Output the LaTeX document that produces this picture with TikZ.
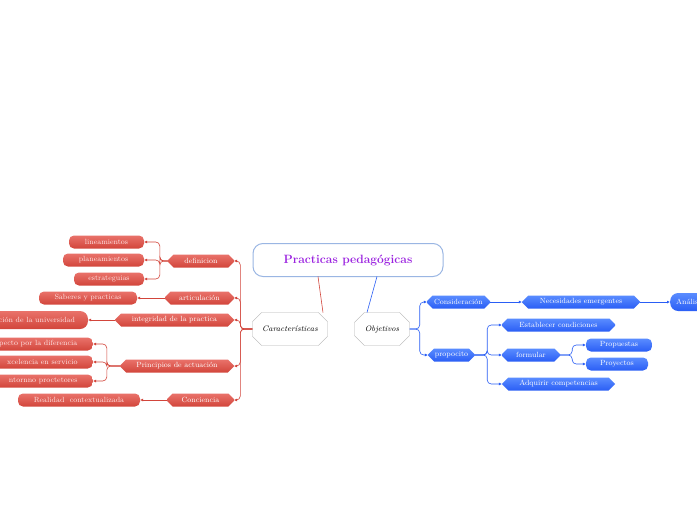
\documentclass[tikz,border=0pt]{standalone}
\usetikzlibrary{shapes.misc,arrows.meta}
\definecolor{rd}{HTML}{D2453B}
\definecolor{rdl}{HTML}{E9726A}
\definecolor{bl}{HTML}{2A5EF5}
\definecolor{bll}{HTML}{5A8CFF}
\definecolor{pur}{HTML}{9B22E0}
\tikzset{
 base/.style={font=\fontsize{7.5}{8}\selectfont, text=white, inner sep=0pt, minimum height=13},
 rch/.style={base, chamfered rectangle, chamfered rectangle xsep=6pt, top color=rdl, bottom color=rd, draw=none},
 rlf/.style={base, rounded corners=5pt, top color=rdl, bottom color=rd, text=red!10},
 bch/.style={base, chamfered rectangle, chamfered rectangle xsep=6pt, top color=bll, bottom color=bl, draw=none},
 blf/.style={base, rounded corners=5pt, top color=bll, bottom color=bl},
 rc/.style={draw=rd, line width=0.6pt, rounded corners=4pt, -{Latex[length=3pt,width=3pt]}},
 bc/.style={draw=bl, line width=0.6pt, rounded corners=4pt, -{Latex[length=3pt,width=3pt]}},
}
\begin{document}
\begin{tikzpicture}[x=1pt,y=-1pt]
\useasboundingbox[fill=white] (0,0) rectangle (697,520);
% main
\node[draw=cyan!50!blue!40, line width=1pt, rounded corners=10pt, minimum width=190, minimum height=33, font=\bfseries\large, text=pur] (t) at (348,260) {Practicas pedagógicas};
\node[chamfered rectangle, chamfered rectangle xsep=8pt, draw=gray!60, minimum width=75, minimum height=33, font=\itshape\fontsize{8}{9}\selectfont] (car) at (290,329) {Características};
\node[chamfered rectangle, chamfered rectangle xsep=8pt, draw=gray!60, minimum width=55, minimum height=33, font=\itshape\fontsize{8}{9}\selectfont] (obj) at (382,329) {Objetivos};
\draw[rd, line width=0.6pt] (318,276.5) -- (323,312.5);
\draw[bl, line width=0.6pt] (377,276.5) -- (367,312.5);
% red level 2
\node[rch, minimum width=66] (def) at (201,261) {definicion};
\node[rch, minimum width=69] (art) at (199.5,298) {articulación};
\node[rch, minimum width=119] (int) at (174.5,320) {integridad de la practica};
\node[rch, minimum width=114] (pri) at (177,366) {Principios de actuación};
\node[rch, minimum width=67] (con) at (200.5,400) {Conciencia};
\foreach \n in {def,art,int,pri,con} \draw[rc] (car.west) -- ++(-12,0) |- (\n.east);
% red leaves
\node[rlf, minimum width=75] (l1) at (106.5,242) {lineamientos};
\node[rlf, minimum width=81] (l2) at (103.5,260) {planeamientos};
\node[rlf, minimum width=70] (l3) at (109,279) {estrateguias};
\foreach \n in {l1,l2,l3} \draw[rc] (def.west) -- ++(-8,0) |- (\n.east);
\node[rlf, minimum width=98] (sab) at (88,298) {Saberes y practicas};
\draw[rc] (art.west) -- (sab.east);
\node[rlf, minimum width=130, rounded corners=8pt, minimum height=18] (uni) at (23,320) {\hspace*{28pt}ción de la universidad};
\draw[rc] (int.west) -- (uni.east);
\node[rlf, minimum width=130, anchor=east] (p1) at (93,344) {\hspace*{21pt}pecto por la diferencia};
\node[rlf, minimum width=130, anchor=east] (p2) at (93,362) {\hspace*{29pt}xcelencia en servicio};
\node[rlf, minimum width=130, anchor=east] (p3) at (93,381) {\hspace*{31pt}ntornno proctetores};
\foreach \n in {p1,p2,p3} \draw[rc] (pri.west) -- ++(-13,0) |- (\n.east);
\node[rlf, minimum width=122] (rea) at (79,400) {Realidad\ \ contextualizada};
\draw[rc] (con.west) -- (rea.east);
% blue
\node[bch, minimum width=63] (cons) at (458.5,302) {Consideración};
\node[bch, minimum width=47] (prop) at (451.5,355) {propocito};
\foreach \n in {cons,prop} \draw[bc] (obj.east) -- ++(10,0) |- (\n.west);
\node[bch, minimum width=118] (nec) at (581,302) {Necesidades emergentes};
\draw[bc] (cons.east) -- (nec.west);
\node[base, rounded corners=8pt, top color=bll, bottom color=bl, minimum height=18, text width=70, align=left, inner xsep=6pt, anchor=west] (ana) at (670,302) {Análisis};
\draw[bc] (nec.east) -- (ana.west);
\node[bch, minimum width=113] (est) at (558.5,325) {Establecer condiciones};
\node[bch, minimum width=58] (form) at (531,355) {formular};
\node[bch, minimum width=113] (adq) at (558.5,384) {Adquirir competencias};
\foreach \n in {est,form,adq} \draw[bc] (prop.east) -- ++(12,0) |- (\n.west);
\node[blf, minimum width=66] (pr1) at (619,345) {Propuestas};
\node[blf, minimum width=62] (pr2) at (617,364) {Proyectos};
\foreach \n in {pr1,pr2} \draw[bc] (form.east) -- ++(12,0) |- (\n.west);
\end{tikzpicture}
\end{document}
